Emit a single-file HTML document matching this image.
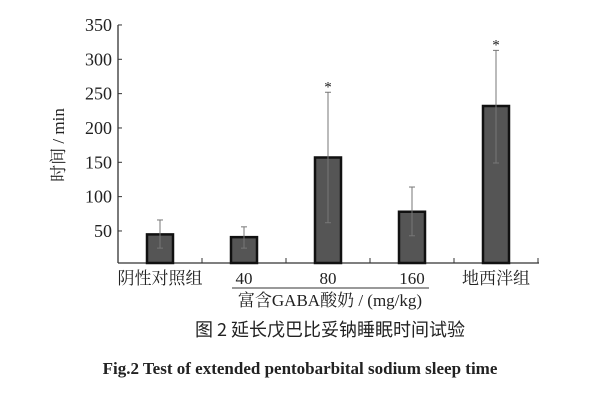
<!DOCTYPE html>
<html><head><meta charset="utf-8"><style>
body{margin:0;background:#fff;width:600px;height:400px;overflow:hidden}
text{font-family:"Liberation Serif","Noto Serif CJK SC",serif;fill:#222}
</style></head><body>
<svg id="c" width="600" height="400"></svg>
<script>
const categories=["阴性对照组","40","80","160","地西泮组"];
const values=[45,41,157,78,232];
const errTop=[66,56,252,114,313];
const errBottom=[25,25,62,43,149];
const stars=[false,false,true,false,true];
const yTicks=[50,100,150,200,250,300,350];
const NS="http://www.w3.org/2000/svg";
const svg=document.getElementById('c');
function y(v){return 265.3-v*(206/300);}
function x(i){return 160+i*84;}
function mk(t,a,txt){const e=document.createElementNS(NS,t);for(const k in a)e.setAttribute(k,a[k]);if(txt!==undefined)e.textContent=txt;svg.appendChild(e);return e;}
const base=263;
let e=mk('line',{x1:118,y1:25,x2:118,y2:base,stroke:'#333','stroke-width':1.3});

e=mk('line',{x1:118,y1:base,x2:539,y2:base,stroke:'#333','stroke-width':1.3});

yTicks.forEach(v=>{
 let t=mk('line',{x1:118,y1:y(v),x2:122,y2:y(v),stroke:'#333'});
 
 let l=mk('text',{x:112,y:y(v)+6,'text-anchor':'end','font-size':18},v);
 
});
for(let i=0;i<categories.length;i++){
 let tx=x(i)+42;let t=mk('line',{x1:tx,y1:base,x2:tx,y2:base-5,stroke:'#333'});
 
 let b=mk('rect',{x:x(i)-13,y:y(values[i]),width:26,height:base-y(values[i]),fill:'#555',stroke:'#111','stroke-width':2.5});
 
 let el=mk('line',{x1:x(i),y1:y(errTop[i]),x2:x(i),y2:y(errBottom[i]),stroke:'#777','stroke-width':1});
 
 [errTop[i],errBottom[i]].forEach(v=>{let c=mk('line',{x1:x(i)-3,y1:y(v),x2:x(i)+3,y2:y(v),stroke:'#777'});
 });
 if(stars[i]){let s=mk('text',{x:x(i),y:y(errTop[i])-1,'text-anchor':'middle','font-size':15},'*');
 }
 let l=mk('text',{x:x(i),y:284,'text-anchor':'middle','font-size':17},categories[i]);
 
}
e=mk('line',{x1:232,y1:288,x2:429,y2:288,stroke:'#333'});

e=mk('text',{x:330,y:306,'text-anchor':'middle','font-size':17},'富含GABA酸奶 / (mg/kg)');

e=mk('text',{x:0,y:0,'text-anchor':'middle','font-size':17,transform:'translate(64,145) rotate(-90)'},'时间 / min');

e=mk('text',{x:330,y:336,'text-anchor':'middle','font-size':18,style:'font-family:"Noto Sans CJK SC",sans-serif'},'图 2  延长戊巴比妥钠睡眠时间试验');

e=mk('text',{x:300,y:374,'text-anchor':'middle','font-size':17,'font-weight':'bold'},'Fig.2 Test of extended pentobarbital sodium sleep time');

</script>
</body></html>
